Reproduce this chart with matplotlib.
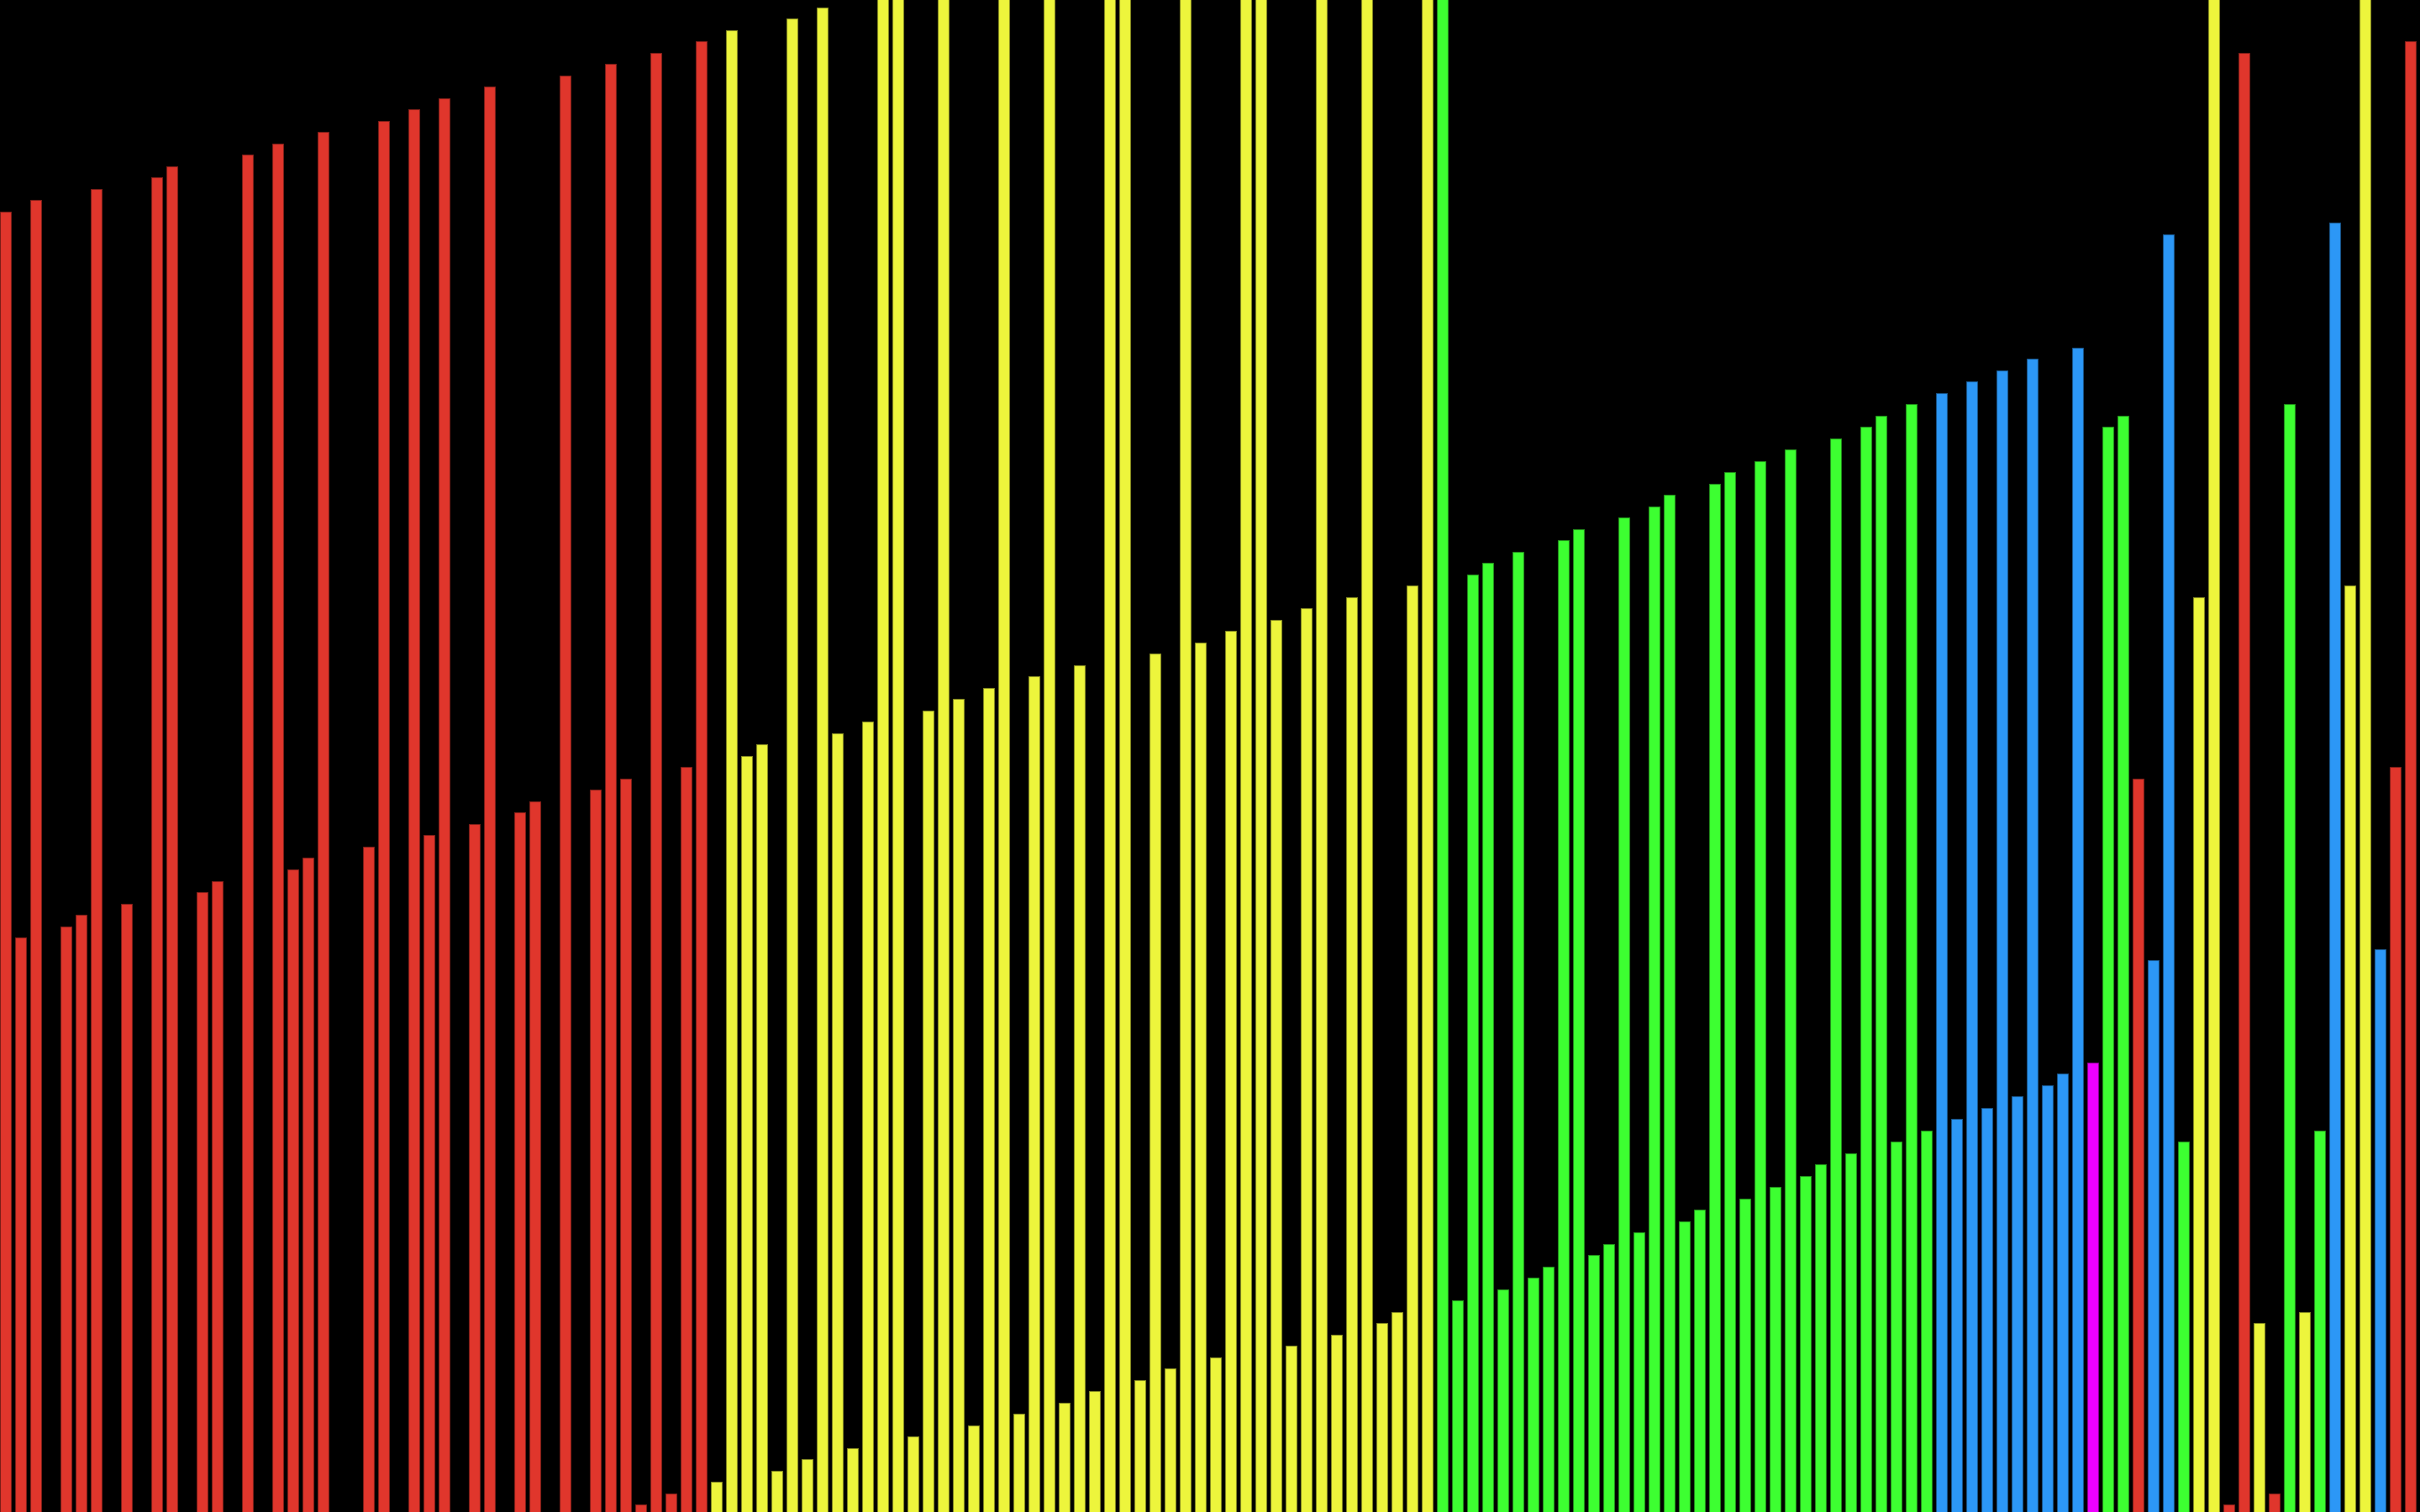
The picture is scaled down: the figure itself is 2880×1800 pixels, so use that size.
import matplotlib
matplotlib.use("Agg")
import matplotlib.pyplot as plt
import matplotlib.colors as mcolors

# Bar values (sort-visualisation state), one per position
values = [
    115, 51, 116, 0, 52, 53, 117, 0, 54, 0,
    118, 119, 0, 55, 56, 0, 120, 0, 121, 57,
    58, 122, 0, 0, 59, 123, 0, 124, 60, 125,
    0, 61, 126, 0, 62, 63, 0, 127, 0, 64,
    128, 65, 1, 129, 2, 66, 130, 3, 131, 67,
    68, 4, 132, 5, 133, 69, 6, 70, 134, 135,
    7, 71, 136, 72, 8, 73, 137, 9, 74, 138,
    10, 75, 11, 139, 140, 12, 76, 13, 141, 77,
    14, 78, 142, 143, 79, 15, 80, 144, 16, 81,
    145, 17, 18, 82, 146, 147, 19, 83, 84, 20,
    85, 21, 22, 86, 87, 23, 24, 88, 25, 89,
    90, 26, 27, 91, 92, 28, 93, 29, 94, 30,
    31, 95, 32, 96, 97, 33, 98, 34, 99, 35,
    100, 36, 101, 37, 102, 38, 39, 103, 40, 96,
    97, 65, 49, 113, 33, 81, 144, 1, 129, 17,
    2, 98, 18, 34, 114, 82, 140, 50, 66, 130,
]
highlight_index = 138

band_colors = ["#EDF53C", "#3DFF31", "#2C97F6", "#E0362C"]  # yellow, green, blue, red
highlight_color = "#EE00FF"

def bar_color(i, v):
    if i == highlight_index:
        return highlight_color
    return band_colors[((v - 3) % 64) // 16]

colors = [bar_color(i, v) for i, v in enumerate(values)]
edges = []
for c in colors:
    r, g, b = mcolors.to_rgb(c)
    edges.append((r * 0.55, g * 0.55, b * 0.55))

fig = plt.figure(figsize=(28.8, 18), dpi=100, facecolor="black")
ax = fig.add_axes([0, 0, 1, 1])
ax.set_facecolor("black")

w = 0.72
x = list(range(len(values)))
ax.bar(x, values, width=w, color=colors, edgecolor=edges, linewidth=0.8)

ax.set_xlim(-0.37, len(values) - 0.37)
ax.set_ylim(1 / 3, 133 + 2 / 3)
ax.axis("off")

fig.savefig("out.png", dpi=100, facecolor="black")
